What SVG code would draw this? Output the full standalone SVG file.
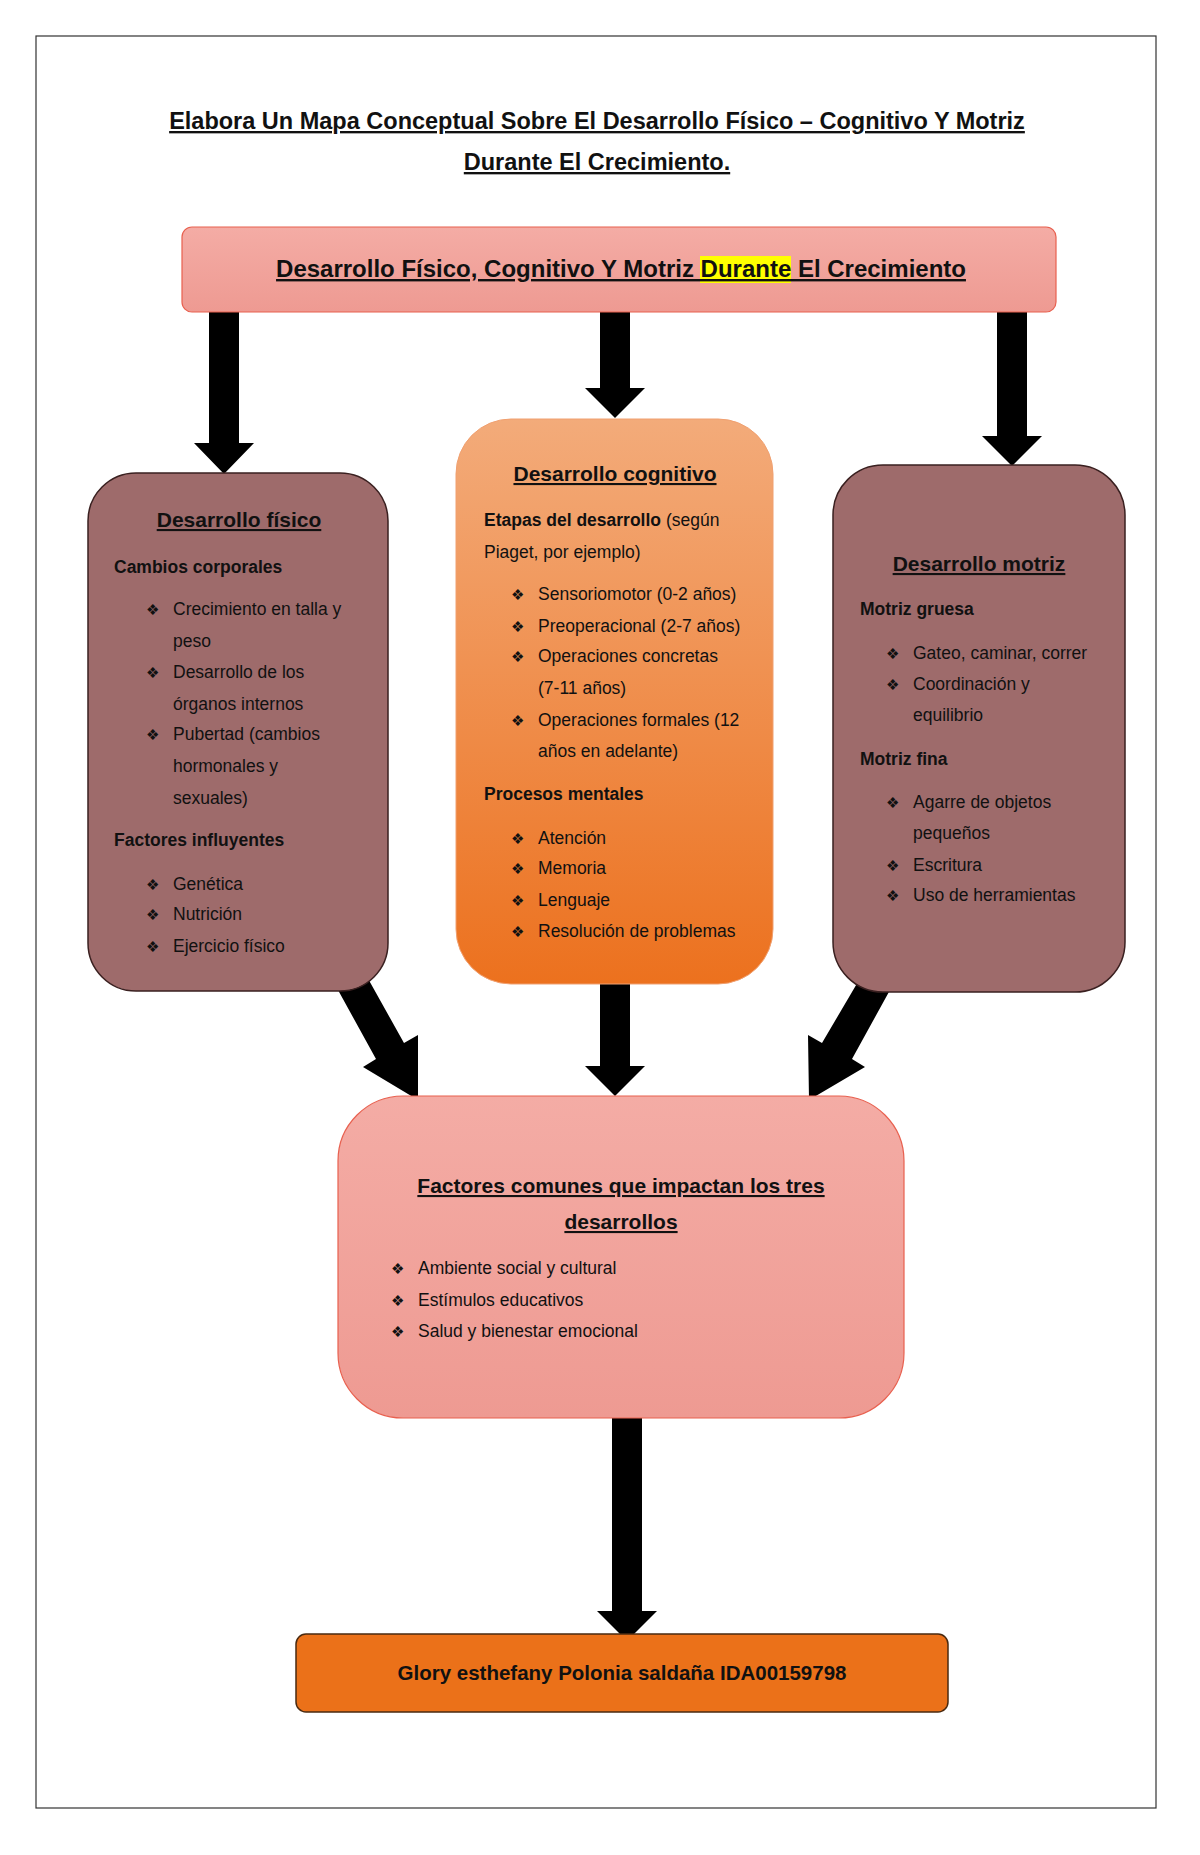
<svg xmlns="http://www.w3.org/2000/svg" width="1200" height="1855" viewBox="0 0 1200 1855">
<defs>
<linearGradient id="gPink" x1="0" y1="0" x2="0" y2="1"><stop offset="0" stop-color="#f4aca5"/><stop offset="1" stop-color="#ee9a92"/></linearGradient>
<linearGradient id="gOr" x1="0" y1="0" x2="0" y2="1"><stop offset="0" stop-color="#f3ab7a"/><stop offset="1" stop-color="#ec711e"/></linearGradient>
</defs>
<style>
text{font-family:"Liberation Sans",Arial,sans-serif;fill:#111}
.h{font-weight:bold;font-size:21px;text-decoration:underline;text-anchor:middle}
.s{font-weight:bold;font-size:17.5px}
.t{font-size:17.5px}
.b{font-family:"DejaVu Sans",sans-serif;font-size:15px}
.ar{fill:#000}
</style>
<rect x="36" y="36" width="1120" height="1772" fill="#fff" stroke="#333" stroke-width="1.2"/>
<text class="h" x="597" y="129" style="font-size:23.5px">Elabora Un Mapa Conceptual Sobre El Desarrollo Físico – Cognitivo Y Motriz</text>
<text class="h" x="597" y="170" style="font-size:23.5px">Durante El Crecimiento. </text>

<g id="connectors">
<polygon class="ar" points="209,312 239,312 239,443 254,443 224,474 194,443 209,443"/>
<polygon class="ar" points="600,312 630,312 630,388 645,388 615,418 585,388 600,388"/>
<polygon class="ar" points="997,312 1027,312 1027,436 1042,436 1012,466 982,436 997,436"/>
<polygon class="ar" points="338,990 366,975 404,1043 418,1035 418,1100 363,1067 376,1059"/>
<polygon class="ar" points="600,984 630,984 630,1066 645,1066 615,1096 585,1066 600,1066"/>
<polygon class="ar" points="862,975 890,990 852,1059 865,1067 809,1100 808,1035 822,1043"/>
<polygon class="ar" points="612,1418 642,1418 642,1611 657,1611 627,1641 597,1611 612,1611"/>
</g>

<g id="top">
<rect x="182" y="227" width="874" height="85" rx="10" fill="url(#gPink)" stroke="#e8604f" stroke-width="1.2"/>
<rect x="700" y="256" width="91" height="27" fill="#ffff00"/>
<text class="h" x="621" y="277" style="font-size:24px">Desarrollo Físico, Cognitivo Y Motriz Durante El Crecimiento</text>
</g>

<g id="fisico">
<rect x="88" y="473" width="300" height="518" rx="48" fill="#9e6b6b" stroke="#3a2020" stroke-width="1.5"/>
<text class="h" x="239" y="527">Desarrollo físico</text>
<text class="s" x="114" y="573">Cambios corporales</text>
<text class="b" x="146" y="615">❖</text><text class="b" x="146" y="678">❖</text><text class="b" x="146" y="740">❖</text><text class="b" x="146" y="890">❖</text><text class="b" x="146" y="920">❖</text><text class="b" x="146" y="952">❖</text>
<text class="t" x="173" y="615">Crecimiento en talla y</text>
<text class="t" x="173" y="647">peso</text>
<text class="t" x="173" y="678">Desarrollo de los</text>
<text class="t" x="173" y="710">órganos internos</text>
<text class="t" x="173" y="740">Pubertad (cambios</text>
<text class="t" x="173" y="772">hormonales y</text>
<text class="t" x="173" y="804">sexuales)</text>
<text class="s" x="114" y="846">Factores influyentes</text>
<text class="t" x="173" y="890">Genética</text>
<text class="t" x="173" y="920">Nutrición</text>
<text class="t" x="173" y="952">Ejercicio físico</text>
</g>

<g id="cognitivo">
<rect x="456" y="419" width="317" height="565" rx="55" fill="url(#gOr)" stroke="#f0a070" stroke-width="1"/>
<text class="h" x="615" y="481">Desarrollo cognitivo</text>
<text class="t" x="484" y="526"><tspan font-weight="bold">Etapas del desarrollo</tspan> (según</text>
<text class="t" x="484" y="558">Piaget, por ejemplo)</text>
<text class="b" x="511" y="600">❖</text><text class="b" x="511" y="632">❖</text><text class="b" x="511" y="662">❖</text><text class="b" x="511" y="726">❖</text>
<text class="t" x="538" y="600">Sensoriomotor (0-2 años)</text>
<text class="t" x="538" y="632">Preoperacional (2-7 años)</text>
<text class="t" x="538" y="662">Operaciones concretas</text>
<text class="t" x="538" y="694">(7-11 años)</text>
<text class="t" x="538" y="726">Operaciones formales (12</text>
<text class="t" x="538" y="757">años en adelante)</text>
<text class="s" x="484" y="800">Procesos mentales</text>
<text class="b" x="511" y="844">❖</text><text class="b" x="511" y="874">❖</text><text class="b" x="511" y="906">❖</text><text class="b" x="511" y="937">❖</text>
<text class="t" x="538" y="844">Atención</text>
<text class="t" x="538" y="874">Memoria</text>
<text class="t" x="538" y="906">Lenguaje</text>
<text class="t" x="538" y="937">Resolución de problemas</text>
</g>

<g id="motriz">
<rect x="833" y="465" width="292" height="527" rx="50" fill="#9e6b6b" stroke="#3a2020" stroke-width="1.5"/>
<text class="h" x="979" y="571">Desarrollo motriz</text>
<text class="s" x="860" y="615">Motriz gruesa</text>
<text class="b" x="886" y="659">❖</text><text class="b" x="886" y="690">❖</text>
<text class="t" x="913" y="659">Gateo, caminar, correr</text>
<text class="t" x="913" y="690">Coordinación y</text>
<text class="t" x="913" y="721">equilibrio</text>
<text class="s" x="860" y="765">Motriz fina</text>
<text class="b" x="886" y="808">❖</text><text class="b" x="886" y="871">❖</text><text class="b" x="886" y="901">❖</text>
<text class="t" x="913" y="808">Agarre de objetos</text>
<text class="t" x="913" y="839">pequeños</text>
<text class="t" x="913" y="871">Escritura</text>
<text class="t" x="913" y="901">Uso de herramientas</text>
</g>

<g id="comunes">
<rect x="338" y="1096" width="566" height="322" rx="65" fill="url(#gPink)" stroke="#e8604f" stroke-width="1.2"/>
<text class="h" x="621" y="1193">Factores comunes que impactan los tres</text>
<text class="h" x="621" y="1229">desarrollos</text>
<text class="b" x="391" y="1274">❖</text><text class="b" x="391" y="1306">❖</text><text class="b" x="391" y="1337">❖</text>
<text class="t" x="418" y="1274">Ambiente social y cultural</text>
<text class="t" x="418" y="1306">Estímulos educativos</text>
<text class="t" x="418" y="1337">Salud y bienestar emocional</text>
</g>

<g id="autor">
<rect x="296" y="1634" width="652" height="78" rx="10" fill="#eb7119" stroke="#4a2a10" stroke-width="1.5"/>
<text x="622" y="1680" text-anchor="middle" style="font-weight:bold;font-size:20.5px">Glory esthefany Polonia saldaña IDA00159798</text>
</g>
</svg>
